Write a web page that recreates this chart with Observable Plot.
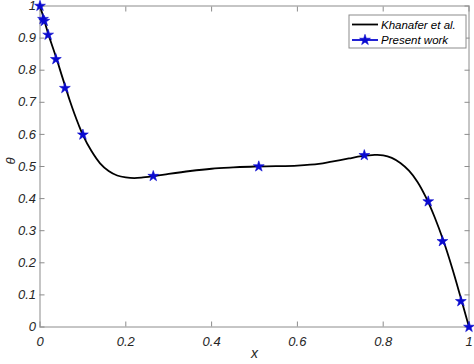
<!DOCTYPE html>
<html>
<head>
<meta charset="utf-8">
<script src="https://cdn.jsdelivr.net/npm/d3@7"></script>
<script src="https://cdn.jsdelivr.net/npm/@observablehq/plot@0.6"></script>
<style>
  html, body { margin: 0; padding: 0; background: #fff; }
  #chart { position: relative; width: 474px; height: 364px; }
  svg { font-family: "Liberation Sans", Arial, sans-serif; }
</style>
</head>
<body>
<div id="chart"></div>
<script>
// Khanafer et al. (solid curve)
const khanX = [0, 0.005, 0.01, 0.02, 0.03, 0.04, 0.05, 0.06, 0.07, 0.08, 0.09, 0.1, 0.12, 0.14, 0.16, 0.18, 0.2, 0.22, 0.24, 0.27, 0.3, 0.35, 0.4, 0.45, 0.5, 0.55, 0.6, 0.65, 0.68, 0.72, 0.75, 0.78, 0.8, 0.82, 0.84, 0.86, 0.88, 0.9, 0.92, 0.94, 0.96, 0.98, 1.0];
const khanTheta = [1, 0.978, 0.955, 0.91, 0.87, 0.83, 0.787, 0.745, 0.703, 0.665, 0.63, 0.598, 0.548, 0.51, 0.486, 0.472, 0.466, 0.464, 0.466, 0.471, 0.477, 0.486, 0.493, 0.497, 0.5, 0.501, 0.503, 0.508, 0.515, 0.525, 0.532, 0.536, 0.535, 0.527, 0.511, 0.487, 0.452, 0.403, 0.342, 0.27, 0.187, 0.095, 0];
// Present work (stars)
const presentX = [0, 0.007, 0.01, 0.019, 0.037, 0.058, 0.1, 0.264, 0.51, 0.756, 0.905, 0.938, 0.981, 1.0];
const presentTheta = [1, 0.959, 0.953, 0.91, 0.834, 0.744, 0.599, 0.47, 0.5, 0.535, 0.391, 0.267, 0.08, 0];
// Ticks & labels
const xTicks = [0, 0.2, 0.4, 0.6, 0.8, 1];
const yTicks = [0, 0.1, 0.2, 0.3, 0.4, 0.5, 0.6, 0.7, 0.8, 0.9, 1];
const seriesNames = ["Khanafer et al.", "Present work"];
const xLabel = "x";
const yLabel = "\u03B8";

const khan = khanX.map((x, i) => ({x, y: khanTheta[i]}));
const present = presentX.map((x, i) => ({x, y: presentTheta[i]}));
const fmt = d => (d === 0 || d === 1) ? String(d) : d.toFixed(1);

const textColor = "#262626";
const axisColor = "#8c8c8c";
const blue = "#0a0ad0";

const plot = Plot.plot({
  width: 474,
  height: 364,
  marginLeft: 39.5,
  marginRight: 5.5,
  marginTop: 5.5,
  marginBottom: 37.5,
  style: {fontFamily: "'Liberation Sans', Arial, sans-serif", fontStyle: "italic", color: textColor, background: "#fff", overflow: "visible"},
  x: {domain: [0, 1]},
  y: {domain: [0, 1]},
  marks: [
    Plot.frame({stroke: axisColor, strokeWidth: 1}),
    Plot.axisX({anchor: "bottom", ticks: xTicks, tickSize: -5, tickPadding: 15, tickFormat: fmt, stroke: axisColor, fill: textColor, fontSize: 13, label: null}),
    Plot.axisX({anchor: "top", ticks: xTicks, tickSize: -5, tickFormat: () => "", stroke: axisColor, label: null}),
    Plot.axisY({anchor: "left", ticks: yTicks, tickSize: -5, tickPadding: 9, tickFormat: fmt, stroke: axisColor, fill: textColor, fontSize: 13, label: null}),
    Plot.axisY({anchor: "right", ticks: yTicks, tickSize: -5, tickFormat: () => "", stroke: axisColor, label: null}),
    Plot.line(khan, {x: "x", y: "y", stroke: "#000", strokeWidth: 1.8, curve: "catmull-rom"}),
    Plot.dot(present, {x: "x", y: "y", symbol: "star", r: 3.4, fill: blue, stroke: blue, strokeWidth: 0.6}),
    Plot.text([xLabel], {frameAnchor: "bottom", dy: 31, text: d => d, fontSize: 14, fontStyle: "italic", fill: textColor}),
    Plot.text([yLabel], {frameAnchor: "left", dx: -29, dy: -2, text: d => d, rotate: -90, fontSize: 13, fontStyle: "italic", fill: textColor})
  ]
});

document.getElementById("chart").appendChild(plot);

// Legend (inside the plot, top-right, MATLAB style)
const svg = d3.select(plot);
const lg = svg.append("g").attr("transform", "translate(349,15)");
lg.append("rect").attr("width", 117).attr("height", 33).attr("fill", "#fff").attr("stroke", axisColor).attr("stroke-width", 1);
const rows = [
  {name: seriesNames[0], color: "#000", star: false, y: 9.5},
  {name: seriesNames[1], color: blue, star: true, y: 25}
];
rows.forEach(r => {
  lg.append("line").attr("x1", 3).attr("x2", 29).attr("y1", r.y).attr("y2", r.y)
    .attr("stroke", r.color).attr("stroke-width", 1.8);
  if (r.star) {
    lg.append("path").attr("d", d3.symbol(d3.symbolStar, Math.PI * 3.4 * 3.4)())
      .attr("transform", `translate(16,${r.y})`).attr("fill", blue).attr("stroke", blue).attr("stroke-width", 0.6);
  }
  lg.append("text").attr("x", 32).attr("y", r.y).attr("dy", "0.35em")
    .attr("text-anchor", "start")
    .attr("font-size", 11.5).attr("font-style", "italic").attr("fill", "#000").text(r.name);
});
</script>
</body>
</html>
